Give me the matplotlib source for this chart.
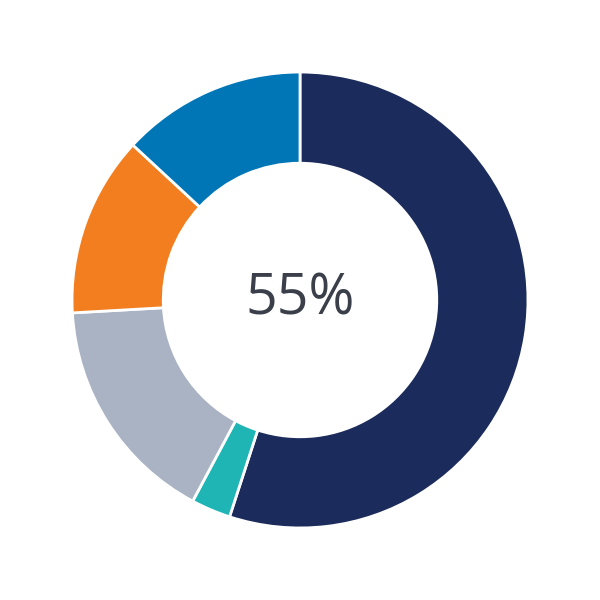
import matplotlib.pyplot as plt

segments = ["Navy", "Teal", "Gray", "Orange", "Blue"]
values = [55, 2.8, 16.3, 12.8, 13.1]
colors = ["#1b2b5b", "#1fb5b5", "#a9b3c3", "#f27e1f", "#0176b7"]
center_label = "55%"

fig = plt.figure(figsize=(6, 6), dpi=100)
ax = fig.add_axes([0, 0, 1, 1])
ax.pie(values, colors=colors, startangle=90, counterclock=False,
       radius=1.0, wedgeprops=dict(width=0.4, edgecolor="white", linewidth=2))
ax.text(0, 0, center_label, ha="center", va="center", fontsize=40,
        color="#3a3f4a", family=["Open Sans", "DejaVu Sans"])
ax.set_xlim(-1.316, 1.316)
ax.set_ylim(-1.316, 1.316)
ax.set_aspect("equal")
ax.set_axis_off()
fig.savefig("out.png", dpi=100)
